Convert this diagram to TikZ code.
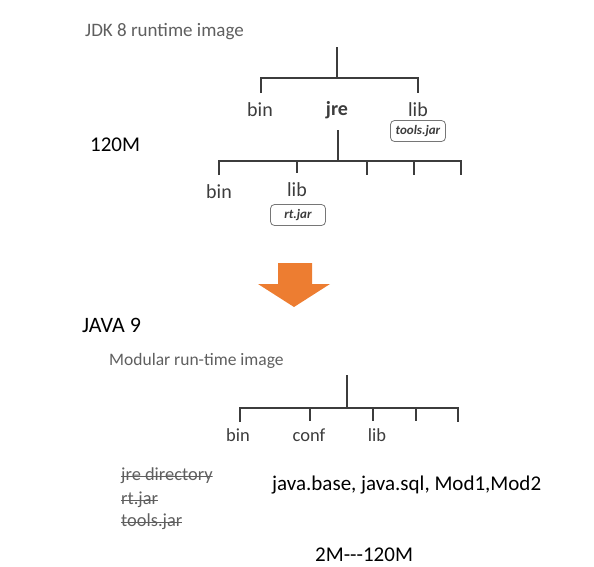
\documentclass[tikz,border=0pt]{standalone}
\usepackage{fontspec}
\setmainfont{Carlito}
\usetikzlibrary{positioning}
\definecolor{captionGray}{RGB}{95, 95, 95}
\definecolor{treeDark}{RGB}{60, 60, 60}
\definecolor{arrowOrange}{RGB}{237, 125, 49}
\tikzset{
    % Tree Styles
    branch/.style={draw=treeDark, line width=1.8pt},
    dirLabel/.style={
        font=\fontsize{20}{24}\selectfont,
        text=treeDark,
        inner sep=1pt
    },
    newDir/.style={dirLabel, font=\fontsize{18.5}{22}\selectfont},
    jarBox/.style={
        draw=treeDark!70,
        rounded corners=4pt,
        line width=0.8pt,
        font=\fontsize{13}{15}\selectfont\bfseries\itshape,
        text=treeDark,
        minimum width=55pt,
        minimum height=21pt,
        inner sep=1pt
    },
    % Text Styles
    caption/.style={font=\fontsize{19}{23}\selectfont, text=captionGray, anchor=west, inner sep=0pt},
    bigText/.style={font=\fontsize{21}{25}\selectfont, text=black, anchor=west, inner sep=0pt},
    goneText/.style={
        font=\fontsize{18.4}{22}\selectfont, text=captionGray, anchor=west, inner sep=0pt,
        text height=13pt, text depth=4.4pt,
        path picture={\draw [captionGray, line width=0.8pt]
            (path picture bounding box.west) -- (path picture bounding box.east);}
    }
}

\begin{document}
\begin{tikzpicture}[x=1pt, y=-1pt]

    \useasboundingbox (0,0) rectangle (594,566);

    % --- JDK 8 ---
    \node (jdkTitle) [caption] at (85,32) {JDK 8 runtime image};
    \node (jdkSize) [bigText] at (90,145) {120M};

    % top level
    \coordinate (rootA) at (337,47);
    \coordinate (joinA) at (337,78);
    \node (binA) [dirLabel] at (260,110) {bin};
    \node (jre) [dirLabel, font=\fontsize{20}{24}\selectfont\bfseries] at (337,110) {jre};
    \node (libA) [dirLabel] at (418,110) {lib};
    \node (tools) [jarBox] at (418,131) {tools.jar};

    \draw [branch] (rootA) -- (joinA);
    \draw [branch] (261,93) |- (joinA) -| (418,93);

    % jre level
    \coordinate (rootB) at (338,130);
    \coordinate (joinB) at (338,161);
    \node (binB) [dirLabel] at (219,192) {bin};
    \node (libB) [dirLabel] at (297,190) {lib};
    \node (rt) [jarBox] at (298,215) {rt.jar};

    \draw [branch] (rootB) -- (joinB);
    \draw [branch] (219,175) |- (joinB) -| (461,175);
    \draw [branch] (297,161) -- (297,173);
    \draw [branch] (367,161) -- (367,175);
    \draw [branch] (414,161) -- (414,175);

    % --- Arrow ---
    \fill [arrowOrange] (278,263) -- (312,263) -- (312,284) -- (330,284)
        -- (294,307) -- (258,284) -- (278,284) -- cycle;

    % --- JAVA 9 ---
    \node (javaTitle) [bigText, font=\fontsize{22}{26}\selectfont] at (82,325) {JAVA 9};
    \node (modTitle) [caption, font=\fontsize{17.5}{21}\selectfont] at (109,361) {Modular run-time image};

    \coordinate (rootC) at (347,375);
    \coordinate (joinC) at (347,408);
    \node (binC) [newDir] at (238,435) {bin};
    \node (conf) [newDir] at (309,435) {conf};
    \node (libC) [newDir] at (377,435) {lib};

    \draw [branch] (rootC) -- (joinC);
    \draw [branch] (240,422) |- (joinC) -| (458,422);
    \draw [branch] (310,408) -- (310,421);
    \draw [branch] (373,408) -- (373,421);
    \draw [branch] (416,408) -- (416,421);

    % --- Removed parts ---
    \node (goneJre) [goneText] at (121,476) {jre directory};
    \node (goneRt) [goneText] at (121,500) {rt.jar};
    \node (goneTools) [goneText] at (121,522) {tools.jar};

    \node (modules) [bigText] at (272,485) {java.base, java.sql, Mod1,Mod2};
    \node (newSize) [bigText] at (315,555) {2M-{}-{}-120M};

\end{tikzpicture}
\end{document}
